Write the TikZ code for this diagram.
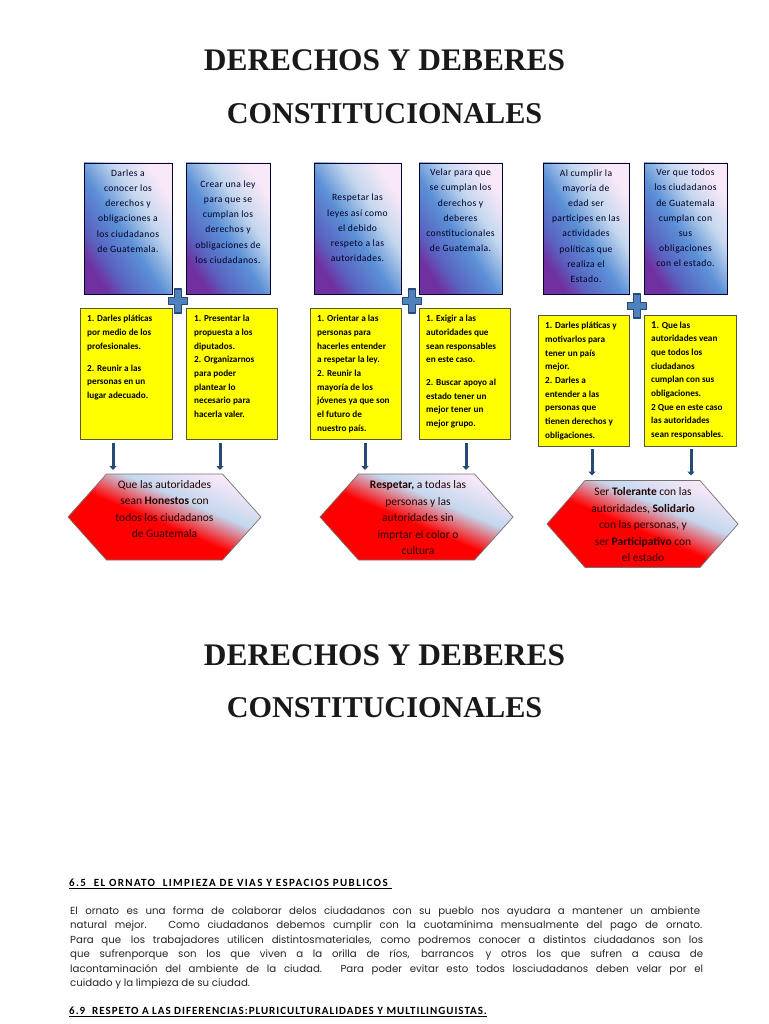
\documentclass[tikz,border=0pt]{standalone}
\usepackage{fontspec}
\usetikzlibrary{arrows.meta}
\setmainfont{Carlito}
\newfontfamily\titlefont{Liberation Serif}
\newfontfamily\bodyfont{Poppins}
\newfontfamily\headfont[LetterSpace=9]{Carlito}
\newfontfamily\headwide[LetterSpace=12.5]{Carlito}
\newfontfamily\blueface[LetterSpace=4]{Carlito}
\definecolor{pplum}{HTML}{7030A0}
\definecolor{pviolet}{HTML}{5A62C0}
\definecolor{pblue}{HTML}{5B90D6}
\definecolor{ppale}{HTML}{C4D7EE}
\definecolor{ppink}{HTML}{F8E8F8}
\definecolor{pred}{HTML}{FF0000}
\definecolor{parrow}{HTML}{264A76}
\definecolor{pcross}{HTML}{4F81BD}
\definecolor{pyellow}{HTML}{FFFF00}
\pgfdeclareverticalshading{bluegrad}{100bp}{color(0bp)=(pplum);color(25bp)=(pplum);color(33bp)=(pviolet);color(47bp)=(pblue);color(61bp)=(ppale);color(75bp)=(ppink);color(100bp)=(ppink)}
\pgfdeclareverticalshading{redgrad}{100bp}{color(0bp)=(pred);color(25bp)=(pred);color(47bp)=(pred);color(60bp)=(ppale);color(75bp)=(ppink);color(100bp)=(ppink)}
\tikzset{
 bluebox/.style={rectangle,draw=black!80!blue,line width=.8pt,inner sep=0pt,shading=bluegrad,shading angle=-56},
 yellowbox/.style={rectangle,draw=black!75!yellow,line width=.9pt,inner sep=0pt,fill=pyellow},
 hexa/.style={draw=black!55,line width=.7pt,shading=redgrad,shading angle=-23},
 bluetext/.style={align=center,inner sep=0pt,text=black!85!blue,font=\blueface\fontsize{9.6}{15.2}\selectfont},
 yellowtext/.style={anchor=north west,align=left,inner sep=0pt,font=\bfseries\fontsize{9.2}{13.7}\selectfont},
 hextext/.style={align=center,inner sep=0pt,text=black!85!red,font=\fontsize{11.5}{16.5}\selectfont},
 titleone/.style={inner sep=0pt,text=black!90,font=\titlefont\bfseries\fontsize{31.4}{36}\selectfont},
 titletwo/.style={inner sep=0pt,text=black!90,font=\titlefont\bfseries\fontsize{30.2}{36}\selectfont},
 headtext/.style={anchor=west,inner sep=0pt,font=\headfont\bfseries\fontsize{11}{13}\selectfont},
 headwidetext/.style={anchor=west,inner sep=0pt,font=\headwide\bfseries\fontsize{11}{13}\selectfont},
 bodytext/.style={anchor=north west,align=left,inner sep=0pt,text=black!85,font=\bodyfont\fontsize{10.2}{14.4}\selectfont},
 flow/.style={draw=parrow,line width=3pt,-{Triangle[length=4pt,width=7pt]}},
 crossmark/.style={draw=parrow,line width=1.2pt,fill=pcross,line join=round}
}
\newcommand{\jl}[1]{\makebox[633pt][s]{#1}}
\newcommand{\plusmark}[2]{\draw[crossmark] (#1-3.5,#2-12) -- (#1+3.5,#2-12) -- (#1+3.5,#2-3.5) -- (#1+9.5,#2-3.5) -- (#1+9.5,#2+3.5) -- (#1+3.5,#2+3.5) -- (#1+3.5,#2+12) -- (#1-3.5,#2+12) -- (#1-3.5,#2+3.5) -- (#1-9.5,#2+3.5) -- (#1-9.5,#2-3.5) -- (#1-3.5,#2-3.5) -- cycle;}
% name, centre x, centre y, half width, half flat width, half height
\newcommand{\hexmark}[6]{\path[hexa] (#2-#4,#3) -- (#2-#5,#3-#6) -- (#2+#5,#3-#6) -- (#2+#4,#3) -- (#2+#5,#3+#6) -- (#2-#5,#3+#6) -- cycle;
 \coordinate (#1) at (#2,#3-#6);}
\begin{document}
\begin{tikzpicture}[x=1pt,y=-1pt]
\useasboundingbox[fill=white] (0,0) rectangle (768,1024);
% titles
\node[titleone] (t1) at (384.5,60) {DERECHOS Y DEBERES};
\node[titletwo] (t2) at (384.5,114) {CONSTITUCIONALES};
\node[titleone] (t3) at (384.5,655) {DERECHOS Y DEBERES};
\node[titletwo] (t4) at (384.5,708) {CONSTITUCIONALES};
% blue boxes
\node[bluebox,minimum width=88pt,minimum height=131pt] (b1) at (128,228.5) {};
\node[bluebox,minimum width=84pt,minimum height=131pt] (b2) at (228,228.5) {};
\node[bluebox,minimum width=87pt,minimum height=131pt] (b3) at (357.5,228.5) {};
\node[bluebox,minimum width=83pt,minimum height=131pt] (b4) at (460.5,228.5) {};
\node[bluebox,minimum width=86pt,minimum height=131pt] (b5) at (586,228.5) {};
\node[bluebox,minimum width=83pt,minimum height=131pt] (b6) at (685.5,228.5) {};
\node[bluetext] (bt1) at (128,211) {Darles a\\conocer los\\derechos y\\obligaciones a\\los ciudadanos\\de Guatemala.};
\node[bluetext] (bt2) at (228,222) {Crear una ley\\para que se\\cumplan los\\derechos y\\obligaciones de\\los ciudadanos.};
\node[bluetext] (bt3) at (357.5,228) {Respetar las\\leyes así como\\el debido\\respeto a las\\autoridades.};
\node[bluetext] (bt4) at (460.5,210.5) {Velar para que\\se cumplan los\\derechos y\\deberes\\constitucionales\\de Guatemala.};
\node[bluetext] (bt5) at (586,226) {Al cumplir la\\mayoría de\\edad ser\\partícipes en las\\actividades\\políticas que\\realiza el\\Estado.};
\node[bluetext] (bt6) at (685.5,218) {Ver que todos\\los ciudadanos\\de Guatemala\\cumplan con\\sus\\obligaciones\\con el estado.};
% plus signs
\plusmark{178}{301}
\plusmark{412}{301}
\plusmark{637}{306}
% yellow boxes
\node[yellowbox,minimum width=92pt,minimum height=131pt] (y1) at (126,374) {};
\node[yellowbox,minimum width=91pt,minimum height=131pt] (y2) at (231.5,374) {};
\node[yellowbox,minimum width=91pt,minimum height=131pt] (y3) at (355.5,374) {};
\node[yellowbox,minimum width=91pt,minimum height=131pt] (y4) at (464.5,374) {};
\node[yellowbox,minimum width=91pt,minimum height=131pt] (y5) at (583.5,381) {};
\node[yellowbox,minimum width=92pt,minimum height=131pt] (y6) at (690,381) {};
\node[yellowtext] (yt1) at (87,315) {1. Darles pláticas\\por  medio de los\\profesionales.\\[8.3pt]2. Reunir a las\\personas en un\\lugar adecuado.};
\node[yellowtext] (yt2) at (194,315) {1. Presentar la\\propuesta a los\\diputados.\\2. Organizarnos\\para poder\\plantear lo\\necesario para\\hacerla valer.};
\node[yellowtext] (yt3) at (317,315) {1. Orientar a las\\personas para\\hacerles entender\\a respetar la ley.\\2. Reunir la\\mayoría de los\\jóvenes ya que son\\el futuro de\\nuestro país.};
\node[yellowtext] (yt4) at (426,315) {1. Exigir a las\\autoridades que\\sean responsables\\en este caso.\\[9pt]2. Buscar apoyo al\\estado tener un\\mejor tener un\\mejor grupo.};
\node[yellowtext] (yt5) at (545,322) {1. Darles pláticas y\\motivarlos para\\tener un país\\mejor.\\2. Darles a\\entender a las\\personas que\\tienen derechos y\\obligaciones.};
\node[yellowtext] (yt6) at (651,321) {{\fontsize{10.5}{13.7}\selectfont 1}. Que las\\autoridades vean\\que todos los\\ciudadanos\\cumplan con sus\\obligaciones.\\2 Que en este caso\\las autoridades\\sean responsables.};
% hexagons
\hexmark{h1}{164.5}{517}{96.5}{58}{43}
\hexmark{h2}{416.5}{517}{96.5}{58}{43}
\hexmark{h3}{642.5}{524}{95.5}{57.5}{43.5}
\node[hextext] (ht1) at (164.5,509) {Que las autoridades\\sean \textbf{Honestos} con\\todos los ciudadanos\\de Guatemala};
\node[hextext] (ht2) at (418,518) {\textbf{Respetar,} a todas las\\personas y las\\autoridades sin\\imprtar el color o\\cultura};
\node[hextext] (ht3) at (643,525) {Ser \textbf{Tolerante} con las\\autoridades, \textbf{Solidario}\\con las personas, y\\ser \textbf{Participativo} con\\el estado};
% arrows
\draw[flow] ([xshift=-13pt,yshift=-3pt]y1.south) -- ([xshift=-51.5pt,yshift=4pt]h1);
\draw[flow] ([xshift=-11.5pt,yshift=-3pt]y2.south) -- ([xshift=55.5pt,yshift=4pt]h1);
\draw[flow] ([xshift=9.5pt,yshift=-3pt]y3.south) -- ([xshift=-51.5pt,yshift=4pt]h2);
\draw[flow] ([xshift=1.5pt,yshift=-3pt]y4.south) -- ([xshift=49.5pt,yshift=4pt]h2);
\draw[flow] ([xshift=8.5pt,yshift=-2pt]y5.south) -- ([xshift=-50.5pt,yshift=5pt]h3);
\draw[flow] ([xshift=1pt,yshift=-2pt]y6.south) -- ([xshift=48.5pt,yshift=5pt]h3);
% text
\node[headwidetext] (s1) at (69,884) {\underline{6.5\ \ EL ORNATO\ \ LIMPIEZA DE VIAS Y ESPACIOS PUBLICOS\ }};
\node[bodytext] (p1) at (70,906.5) {\makebox[630pt][s]{El ornato es una forma de colaborar delos ciudadanos con su pueblo nos ayudara a mantener un ambiente}\\
\makebox[632pt][s]{natural mejor.\hspace{3pt} Como ciudadanos debemos cumplir con la cuotamínima mensualmente del pago de ornato.}\\
\jl{Para que\hspace{2pt} los trabajadores utilicen distintosmateriales, como podremos conocer a distintos ciudadanos son los}\\
\jl{que sufrenporque son los que viven a la orilla de ríos, barrancos\hspace{2pt} y otros los que sufren a causa de}\\
\jl{lacontaminación del ambiente de la ciudad. Para poder evitar esto todos losciudadanos deben velar por el}\\
cuidado y la limpieza de su ciudad.};
\node[headtext] (s2) at (69,1012) {\underline{6.9\ \ RESPETO A LAS DIFERENCIAS:PLURICULTURALIDADES Y MULTILINGUISTAS.}};
\end{tikzpicture}
\end{document}
